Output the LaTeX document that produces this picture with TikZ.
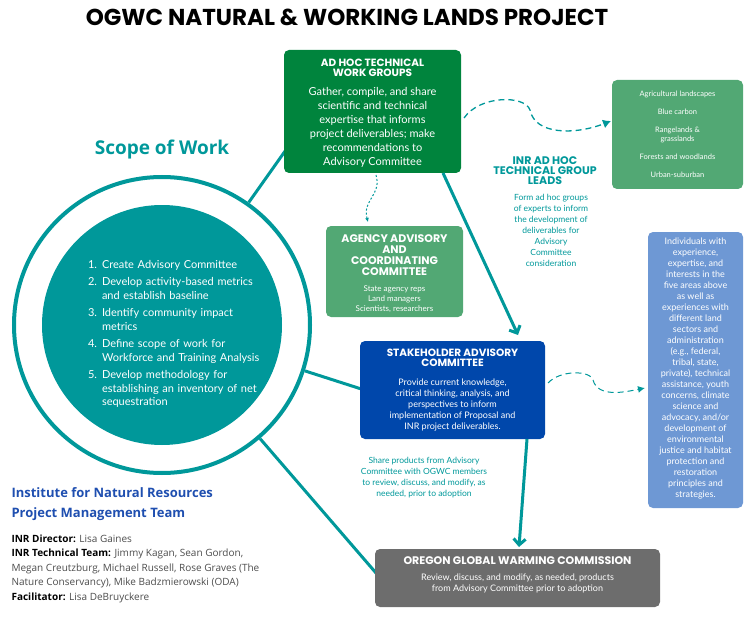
\documentclass[tikz,border=0pt]{standalone}
\usepackage{fontspec}
\setmainfont{Lato}
\newfontfamily\headfont{Poppins}
\newfontfamily\teamfont{Open Sans}
\usetikzlibrary{arrows.meta}
\definecolor{teal}{HTML}{00989A}
\definecolor{darkgreen}{HTML}{00843D}
\definecolor{midgreen}{HTML}{52A874}
\definecolor{stakeblue}{HTML}{0047AB}
\definecolor{lightblue}{HTML}{6E98D4}
\definecolor{ogwcgray}{HTML}{6D6D6D}
\definecolor{inrblue}{HTML}{1F4FB0}
\tikzset{
  box/.style={rounded corners=5pt,inner sep=0pt,anchor=north west},
  boxhead/.style={text=white,font=\headfont\bfseries\fontsize{10.5}{10}\selectfont,align=center},
  boxtext/.style={text=white,align=center},
  link/.style={draw=teal,line width=3pt},
  flow/.style={link,-{Straight Barb[length=6pt,width=12pt]}},
  hop/.style={draw=teal,line width=1.3pt,dashed,dash pattern=on 6pt off 4pt,-{Latex[length=8pt,width=9pt]}}
}
\begin{document}
\begin{tikzpicture}[x=1pt,y=-1pt]
\useasboundingbox (0,0) rectangle (750,623);
% title
\node (title) at (347,17) {\headfont\bfseries\fontsize{23}{24}\selectfont OGWC NATURAL \& WORKING LANDS PROJECT};
\node[text=teal,font=\teamfont\bfseries\fontsize{19}{20}\selectfont] (scope) at (162,150) {Scope of Work};
% links behind circle and boxes
\coordinate (c) at (162,325);
\draw[link] (c) -- (300,130);
\draw[link] (c) -- (380,395);
\draw[link] (c) -- (395,595);
% circle
\fill[white] (c) circle (150);
\draw[teal,line width=4pt] (c) circle (148);
\fill[teal] (c) circle (120);
\node[text=white,font=\fontsize{11}{13.5}\selectfont,align=left,text width=190pt] (tasks) at (172,327) {%
\begin{enumerate}\setlength{\itemsep}{0pt}\setlength{\parsep}{0pt}\setlength{\leftmargin}{12pt}
\item Create Advisory Committee
\item Develop activity-based metrics and establish baseline
\item Identify community impact metrics
\item Define scope of work for Workforce and Training Analysis
\item Develop methodology for establishing an inventory of net sequestration
\end{enumerate}};
% boxes
\fill[darkgreen,box] (284,50) rectangle (461,173);
\node[boxhead] (adhoc) at (372.5,68) {AD HOC TECHNICAL\\WORK GROUPS};
\node[boxtext,font=\fontsize{11}{14}\selectfont] (adhoctext) at (372.5,127) {Gather, compile, and share\\scientific and technical\\expertise that informs\\project deliverables; make\\recommendations to\\Advisory Committee};
\fill[midgreen,box] (612,80) rectangle (743,189);
\node[boxtext,font=\fontsize{7.5}{9}\selectfont] (lands) at (677.5,134.5) {Agricultural landscapes\\[9pt]Blue carbon\\[9pt]Rangelands \&\\grasslands\\[9pt]Forests and woodlands\\[9pt]Urban-suburban};
\fill[midgreen,box] (326,226) rectangle (463,317);
\node[boxhead,font=\headfont\bfseries\fontsize{11}{11}\selectfont] (agency) at (394.5,255) {AGENCY ADVISORY\\AND\\COORDINATING\\COMMITTEE};
\node[boxtext,font=\fontsize{8}{10}\selectfont] (agencytext) at (394.5,299) {State agency reps\\Land managers\\Scientists, researchers};
\fill[stakeblue,box] (360,341) rectangle (545,439);
\node[boxhead] (stake) at (452.5,358) {STAKEHOLDER ADVISORY\\COMMITTEE};
\node[boxtext,font=\fontsize{9}{11}\selectfont] (staketext) at (452.5,405) {Provide current knowledge,\\critical thinking, analysis, and\\perspectives to inform\\implementation of Proposal and\\INR project deliverables.};
\fill[lightblue,box] (648,232) rectangle (743,508);
\node[boxtext,font=\fontsize{9}{11}\selectfont] (indiv) at (695.5,369) {Individuals with\\experience,\\expertise, and\\interests in the\\five areas above\\as well as\\experiences with\\different land\\sectors and\\administration\\(e.g., federal,\\tribal, state,\\private), technical\\assistance, youth\\concerns, climate\\science and\\advocacy, and/or\\development of\\environmental\\justice and habitat\\protection and\\restoration\\principles and\\strategies.};
\fill[ogwcgray,box] (375,549) rectangle (660,607);
\node[boxhead,font=\headfont\bfseries\fontsize{11}{11}\selectfont] (ogwc) at (517.5,561) {OREGON GLOBAL WARMING COMMISSION};
\node[boxtext,font=\fontsize{9}{11}\selectfont] (ogwctext) at (517.5,583) {Review, discuss, and modify, as needed, products\\from Advisory Committee prior to adoption};
% free labels
\node[text=teal,font=\headfont\bfseries\fontsize{11}{10}\selectfont,align=center] (leads) at (545,171) {INR AD HOC\\TECHNICAL GROUP\\LEADS};
\node[text=teal,font=\fontsize{8.5}{11}\selectfont,align=center] (leadstext) at (551,230) {Form ad hoc groups\\of experts to inform\\the development of\\deliverables for\\Advisory\\Committee\\consideration};
\node[text=teal,font=\fontsize{8.5}{11}\selectfont,align=center] (share) at (424,478) {Share products from Advisory\\Committee with OGWC members\\to review, discuss, and modify, as\\needed, prior to adoption};
% team
\node[anchor=north west,text=inrblue,font=\teamfont\bfseries\fontsize{13}{20}\selectfont,align=left] (inr) at (8,484) {Institute for Natural Resources\\Project Management Team};
\node[anchor=north west,text=black!70,font=\teamfont\fontsize{10}{14.5}\selectfont,align=left] (team) at (8,531) {\textcolor{black}{\bfseries INR Director:} Lisa Gaines\\\textcolor{black}{\bfseries INR Technical Team:} Jimmy Kagan, Sean Gordon,\\Megan Creutzburg, Michael Russell, Rose Graves (The\\Nature Conservancy), Mike Badzmierowski (ODA)\\\textcolor{black}{\bfseries Facilitator:} Lisa DeBruyckere};
% arrows
\coordinate (adhocbr) at (443,173);
\coordinate (stakebot) at (527,439);
\draw[flow] (adhocbr) -- (518,335);
\draw[flow] (stakebot) -- (519,547);
\draw[hop] (464,118) .. controls (480,95) and (525,95) .. (530,110) .. controls (535,135) and (575,135) .. (611,121);
\draw[draw=teal,line width=1pt,dash pattern=on 2pt off 2pt,-{Latex[length=4pt,width=4pt]}] (376,175) .. controls (382,195) and (362,200) .. (368,222);
\draw[hop,line width=1pt,-{Latex[length=7pt,width=7pt]}] (548,383) .. controls (560,370) and (590,370) .. (593,380) .. controls (598,398) and (625,392) .. (645,388);
\end{tikzpicture}
\end{document}
